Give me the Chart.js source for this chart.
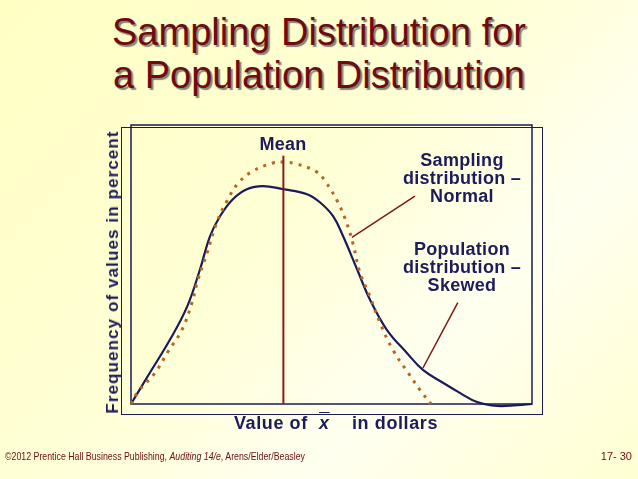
<!DOCTYPE html>
<html>
<head>
<meta charset="utf-8">
<script src="https://cdn.jsdelivr.net/npm/chart.js@4/dist/chart.umd.min.js"></script>
<style>
  html, body { margin: 0; padding: 0; }
  body {
    width: 638px; height: 479px; position: relative; overflow: hidden;
    background: linear-gradient(135deg, #ffffc4 0%, #ffffd6 45%, #fffff0 70%, #ffffd2 100%);
    font-family: "Liberation Sans", Arial, sans-serif;
  }
  #chart { position: absolute; left: 0; top: 0; }
  .title {
    position: absolute; left: 0; width: 638px; text-align: center;
    font-size: 38px; color: #6e0a10; line-height: 43px;
    text-shadow: 2px 2px 1px #858575;
  }
  .outerBox {
    position: absolute; left: 121px; top: 127px; width: 420px; height: 286px;
    border: 1.5px solid #1b1b50;
  }
  .lbl {
    position: absolute; color: #1c1c5c; font-weight: bold; font-size: 18px;
    letter-spacing: 0.3px; text-align: center; line-height: 18px; white-space: nowrap;
  }
  .ylab {
    position: absolute; left: 113px; top: 272px; color: #1c1c5c; font-weight: bold;
    font-size: 17px; letter-spacing: 1.1px; white-space: nowrap;
    transform: translate(-50%, -50%) rotate(-90deg);
  }
  .foot {
    position: absolute; top: 450px; font-size: 11px; color: #6e0c10; white-space: nowrap;
  }
</style>
</head>
<body>
<div class="title" style="top:11px">Sampling Distribution for</div>
<div class="title" style="top:54px">a Population Distribution</div>
<div class="outerBox"></div>
<canvas id="chart" width="638" height="479"></canvas>
<div class="ylab">Frequency of values in percent</div>
<div class="lbl" style="left:283px; top:135px; transform:translateX(-50%)">Mean</div>
<div class="lbl" style="left:462px; top:151px; transform:translateX(-50%)">Sampling<br>distribution –<br>Normal</div>
<div class="lbl" style="left:462px; top:240px; transform:translateX(-50%)">Population<br>distribution –<br>Skewed</div>
<div class="lbl" style="left:336px; top:414px; transform:translateX(-50%); letter-spacing:0.6px">Value of &nbsp;<i style="text-decoration:overline">x</i>&nbsp;&nbsp;&nbsp; in dollars</div>
<div class="foot" style="left:5px; transform:scaleX(0.8); transform-origin:left">©2012 Prentice Hall Business Publishing, <i>Auditing 14/e</i>, Arens/Elder/Beasley</div>
<div class="foot" style="right:6px">17- 30</div>
<script>
// --- Data (x: value axis 0-100, y: frequency 0-100) ---
const popX = [0, 4.7, 9.7, 14.0, 17.2, 19.7, 22.2, 25.4, 28.9, 32.9, 37.9, 43.9, 47.1, 50.4, 52.9, 56.4, 59.6, 63.8, 68.8, 72.8, 77.8, 82.0, 86.3, 91.3, 96.3, 100];
const popY = [0, 11.2, 23.0, 34.9, 48.2, 60.1, 67.3, 73.4, 77.0, 78.1, 77.0, 75.2, 72.3, 67.3, 60.1, 48.2, 37.4, 26.6, 18.3, 12.2, 7.6, 4.0, 0.7, -0.7, -0.4, 0];

const normX = [0, 1.7, 6.0, 9.2, 12.7, 15.2, 16.7, 19.0, 21.4, 23.9, 26.7, 30.4, 35.2, 37.9, 41.4, 46.4, 48.4, 51.6, 53.9, 55.4, 57.1, 59.6, 62.1, 65.3, 69.1, 72.1, 74.8];
const normY = [0, 4.3, 11.2, 18.7, 26.6, 36.3, 44.6, 54.3, 65.1, 72.7, 79.1, 83.5, 86.3, 86.7, 86.0, 83.1, 79.9, 72.3, 64.4, 57.2, 47.1, 38.5, 29.1, 19.4, 11.2, 5.0, 0];

const meanX = [38, 38];
const meanY = [0, 89];

// leader lines from the labels to the curves
const samplingPtrX = [70.8, 55.1];
const samplingPtrY = [74.5, 59.7];
const populationPtrX = [81.5, 72.8];
const populationPtrY = [36.3, 12.9];

function pts(xs, ys) {
  return xs.map((x, i) => ({ x: x, y: ys[i] }));
}

const innerFrame = {
  id: 'innerFrame',
  beforeDatasetsDraw(chart) {
    const a = chart.chartArea, c = chart.ctx;
    c.save();
    c.strokeStyle = '#1b1b50';
    c.lineWidth = 1.5;
    c.strokeRect(a.left, a.top, a.right - a.left, a.bottom - a.top);
    c.restore();
  }
};

const ctx = document.getElementById('chart').getContext('2d');
new Chart(ctx, {
  type: 'scatter',
  data: {
    datasets: [
      { data: pts(meanX, meanY), showLine: true, borderColor: '#8e1a16', borderWidth: 2, pointRadius: 0 },
      { data: pts(normX, normY), showLine: true, borderColor: '#b8661e', borderWidth: 3, borderDash: [3, 6], tension: 0.4, pointRadius: 0 },
      { data: pts(popX, popY), showLine: true, borderColor: '#1a1a5c', borderWidth: 2.2, tension: 0.4, pointRadius: 0 },
      { data: pts(samplingPtrX, samplingPtrY), showLine: true, borderColor: '#7a1a12', borderWidth: 1.5, pointRadius: 0 },
      { data: pts(populationPtrX, populationPtrY), showLine: true, borderColor: '#7a1a12', borderWidth: 1.5, pointRadius: 0 }
    ]
  },
  options: {
    responsive: false,
    animation: false,
    clip: false,
    layout: { padding: { left: 131, top: 125, right: 106, bottom: 75 } },
    scales: {
      x: { type: 'linear', min: 0, max: 100, display: false },
      y: { type: 'linear', min: 0, max: 100, display: false }
    },
    plugins: { legend: { display: false }, tooltip: { enabled: false } }
  },
  plugins: [innerFrame]
});
</script>
</body>
</html>
